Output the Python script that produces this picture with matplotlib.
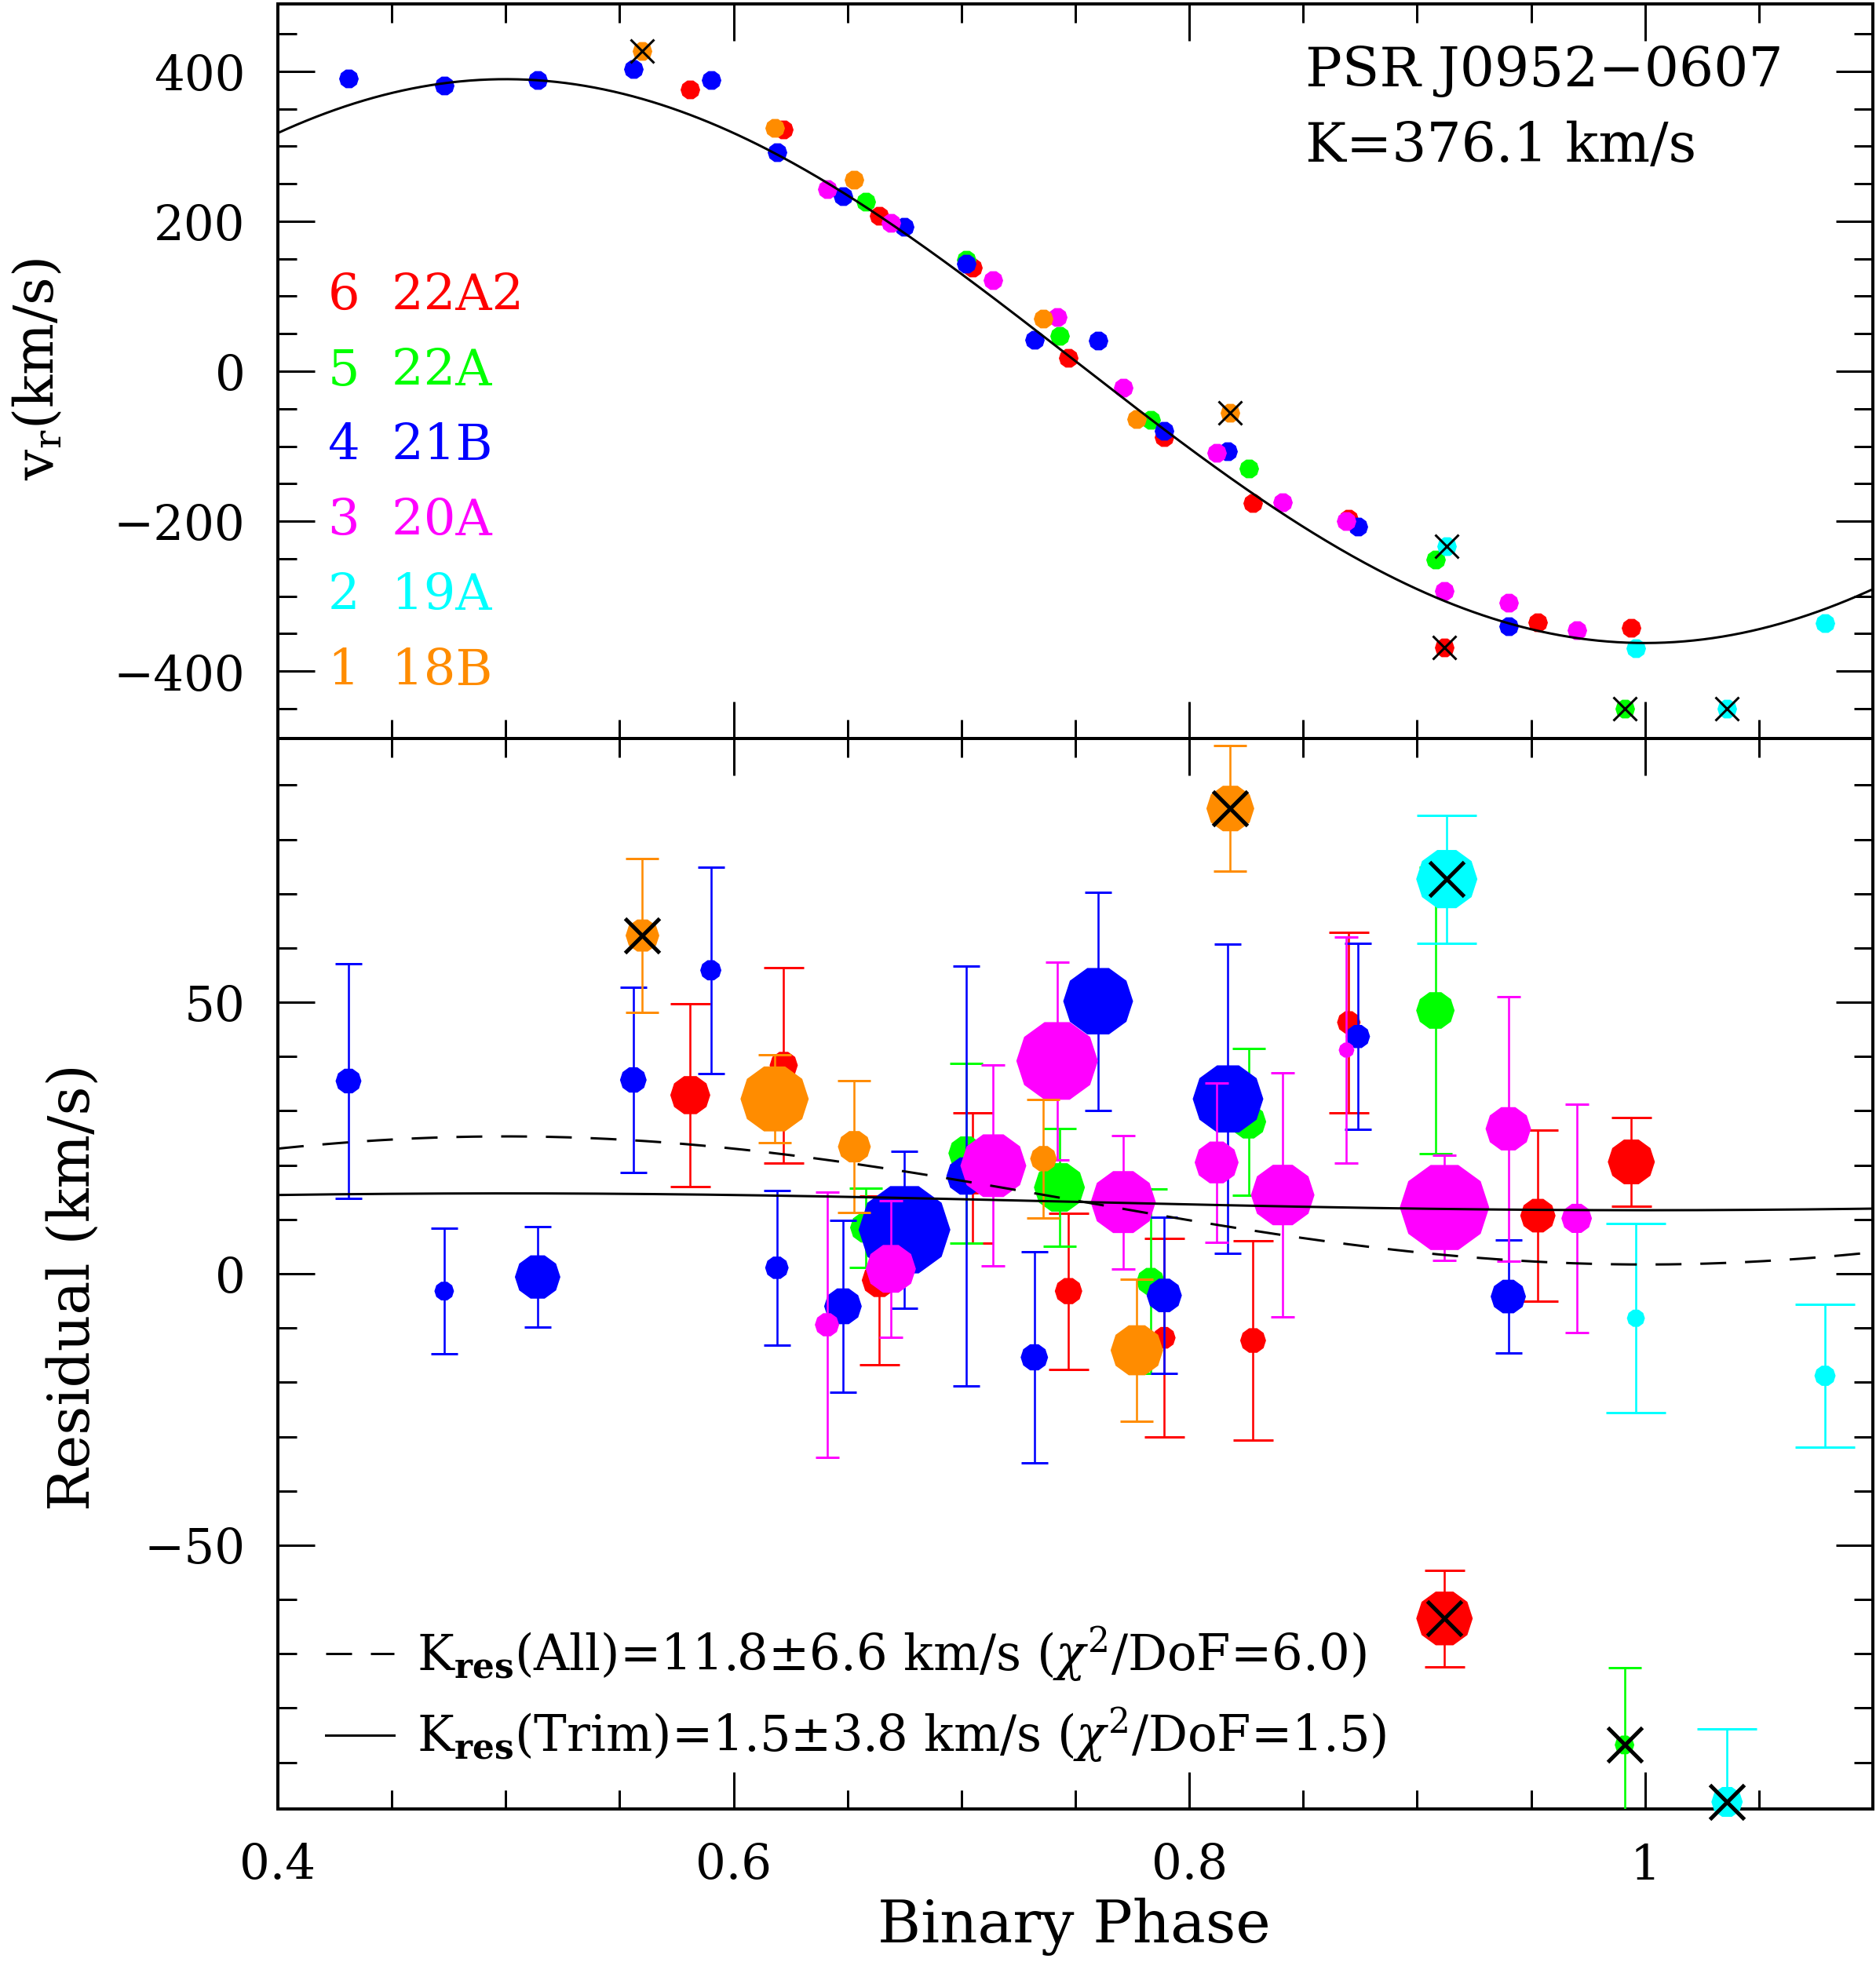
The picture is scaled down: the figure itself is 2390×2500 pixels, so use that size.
import numpy as np
import matplotlib
matplotlib.use("Agg")
import matplotlib.pyplot as plt
from matplotlib.ticker import MultipleLocator, FuncFormatter

# orbit solution and residual fits (offset, semi-amplitude)
K_ORB = 376.1
GAMMA = 13.5
FIT_ALL = (13.5, 11.8)
FIT_TRIM = (13.25, 1.55)

# dataset 6: 22A2
red_phase = [0.581, 0.622, 0.664, 0.705, 0.747, 0.789, 0.828, 0.870, 0.912, 0.953, 0.994]
red_rv = [376, 323, 207, 138, 18, -88, -176, -197, -369, -335, -342]
red_res = [32.9, 38.4, -1.2, 17.7, -3.2, -11.8, -12.3, 46.3, -63.5, 10.7, 20.6]
red_err = [16.8, 18.0, 15.5, 12.0, 14.4, 18.3, 18.4, 16.6, 8.9, 15.7, 8.1]
red_wt = [51, 36, 45, 45, 35, 29, 33, 30, 72, 45, 60]
red_bad = [0, 0, 0, 0, 0, 0, 0, 0, 1, 0, 0]

# dataset 5: 22A
green_phase = [0.658, 0.702, 0.743, 0.783, 0.826, 0.908, 0.991]
green_rv = [226, 149, 47, -65, -130, -251, -450]
green_res = [8.5, 22.2, 15.9, -1.4, 28.0, 48.5, -86.8]
green_err = [7.3, 16.6, 10.8, 17.0, 13.5, 26.4, 14.2]
green_wt = [40, 45, 65, 36, 45, 49, 25]
green_bad = [0, 0, 0, 0, 0, 0, 1]

# dataset 4: 21B
blue_phase = [0.431, 0.473, 0.514, 0.556, 0.590, 0.619, 0.648, 0.675, 0.702, 0.732,
              0.760, 0.789, 0.817, 0.874, 0.940]
blue_rv = [391, 381, 388, 403, 388, 292, 233, 193, 143, 42, 41, -80, -107, -207, -340]
blue_res = [35.5, -3.2, -0.6, 35.7, 55.9, 1.1, -6.0, 8.1, 18.0, -15.4, 50.2, -4.0, 32.2, 43.7, -4.2]
blue_err = [21.6, 11.6, 9.3, 17.1, 19.0, 14.2, 15.8, 14.4, 38.7, 19.4, 20.1, 14.4, 28.5, 17.1, 10.4]
blue_wt = [33, 25, 58, 34, 27, 30, 48, 117, 50, 35, 89, 45, 90, 31, 45]
blue_bad = [0] * 15

# dataset 3: 20A
mag_phase = [0.641, 0.669, 0.714, 0.742, 0.771, 0.812, 0.841, 0.869, 0.912, 0.940, 0.970]
mag_rv = [243, 198, 121, 72, -22, -109, -175, -200, -293, -309, -346]
mag_res = [-9.4, 0.9, 19.9, 39.2, 13.2, 20.5, 14.5, 41.2, 12.2, 26.7, 10.2]
mag_err = [24.5, 12.6, 18.5, 18.2, 12.3, 14.7, 22.5, 20.8, 9.7, 24.4, 21.0]
mag_wt = [31, 64, 84, 104, 83, 56, 81, 20, 114, 58, 39]
mag_bad = [0] * 11

# dataset 2: 19A
cyan_phase = [0.913, 0.996, 1.036, 1.079]
cyan_rv = [-234, -370, -450, -336]
cyan_res = [72.7, -8.2, -97.3, -18.8]
cyan_err = [11.8, 17.4, 13.4, 13.2]
cyan_wt = [78, 23, 40, 27]
cyan_bad = [1, 0, 1, 0]

# dataset 1: 18B
orange_phase = [0.560, 0.618, 0.653, 0.736, 0.777, 0.818]
orange_rv = [427, 325, 255, 70, -64, -56]
orange_res = [62.3, 32.2, 23.4, 21.2, -14.1, 85.7]
orange_err = [14.2, 8.1, 12.1, 10.9, 13.1, 11.6]
orange_wt = [43, 87, 42, 34, 67, 61]
orange_bad = [1, 0, 0, 0, 0, 1]

labels = ["6  22A2", "5  22A", "4  21B", "3  20A", "2  19A", "1  18B"]
colors = ["#ff0000", "#00ff00", "#0000ff", "#ff00ff", "#00ffff", "#ff8c00"]
capw = [51, 43, 34, 30, 76, 43]  # cap width, px

sets = [
    (red_phase, red_rv, red_res, red_err, red_wt, red_bad),
    (green_phase, green_rv, green_res, green_err, green_wt, green_bad),
    (blue_phase, blue_rv, blue_res, blue_err, blue_wt, blue_bad),
    (mag_phase, mag_rv, mag_res, mag_err, mag_wt, mag_bad),
    (cyan_phase, cyan_rv, cyan_res, cyan_err, cyan_wt, cyan_bad),
    (orange_phase, orange_rv, orange_res, orange_err, orange_wt, orange_bad),
]

plt.rcParams['font.family'] = ['DejaVu Serif']
plt.rcParams['mathtext.fontset'] = 'dejavuserif'
plt.rcParams['font.size'] = 44

DPI = 100
PT = 72.0 / DPI  # points per pixel
W, H = 2390, 2500
fig = plt.figure(figsize=(W / DPI, H / DPI), dpi=DPI)

x0, x1 = 354, 2386
ax1 = fig.add_axes([x0 / W, 1 - 941 / H, (x1 - x0) / W, 936 / H])
ax2 = fig.add_axes([x0 / W, 1 - 2305 / H, (x1 - x0) / W, (2305 - 941) / H])

pc = np.linspace(0.4, 1.1, 500)
POLY = (10, 0, 18)

for i, (col, (ph, rv, res, err, wt, bad)) in enumerate(zip(colors, sets)):
    ph = np.array(ph); rv = np.array(rv); res = np.array(res)
    err = np.array(err); wt = np.array(wt); bad = np.array(bad, bool)
    z = 10 + 2 * i
    # top panel
    ax1.scatter(ph, rv, s=(25 * PT) ** 2, marker=POLY, color=col, linewidths=0, zorder=z + 1)
    ax1.plot(ph[bad], rv[bad], 'x', color='k', ms=30 * PT, mew=3 * PT, zorder=30)
    # bottom panel
    ax2.errorbar(ph, res, yerr=err, fmt='none', ecolor=col, elinewidth=2.6 * PT,
                 capsize=capw[i] / 2 * PT, capthick=3 * PT, zorder=z)
    ax2.scatter(ph, res, s=(wt * PT) ** 2, marker=POLY, color=col, linewidths=0,
                zorder=z + 1, clip_on=False)
    ax2.plot(ph[bad], res[bad], 'x', color='k', ms=44 * PT, mew=5 * PT, zorder=30, clip_on=False)

ax1.plot(pc, GAMMA - K_ORB * np.cos(2 * np.pi * pc), color='k', lw=3 * PT, zorder=40)
ax2.plot(pc, FIT_ALL[0] - FIT_ALL[1] * np.cos(2 * np.pi * pc), color='k', lw=3 * PT,
         dashes=(11, 8), zorder=40)
ax2.plot(pc, FIT_TRIM[0] - FIT_TRIM[1] * np.cos(2 * np.pi * pc), color='k', lw=3 * PT, zorder=40)

# annotations
ax1.text(0.851, 400, "PSR J0952\u22120607", va='center', ha='left', fontsize=50)
ax1.text(0.851, 300, "K=376.1 km/s", va='center', ha='left', fontsize=50)
for k, (lab, col) in enumerate(zip(labels, colors)):
    ax1.text(0.422, 100 - 100 * k, lab, color=col, va='center', ha='left', fontsize=46)

ax2.plot([0.421, 0.451], [-70, -70], color='k', lw=3 * PT, dashes=(11, 8))
ax2.plot([0.421, 0.451], [-85, -85], color='k', lw=3 * PT)
ax2.text(0.461, -70, r"K$_{\mathbf{res}}$(All)=11.8$\pm$6.6 km/s ($\chi^2$/DoF=6.0)",
         va='center', ha='left', fontsize=45)
ax2.text(0.461, -85, r"K$_{\mathbf{res}}$(Trim)=1.5$\pm$3.8 km/s ($\chi^2$/DoF=1.5)",
         va='center', ha='left', fontsize=45)

# axes styling
ax1.set_xlim(0.4, 1.1)
ax2.set_xlim(0.4, 1.1)
ax1.set_ylim(-490, 490)
ax2.set_ylim(-98.6, 98.6)
for ax in (ax1, ax2):
    ax.xaxis.set_major_locator(MultipleLocator(0.2))
    ax.xaxis.set_minor_locator(MultipleLocator(0.05))
    for s in ax.spines.values():
        s.set_linewidth(4 * PT)
    ax.tick_params(which='both', direction='in', top=True, right=True, width=3 * PT)
    ax.tick_params(which='major', length=47 * PT, pad=30)
    ax.tick_params(which='minor', length=24 * PT)
ax1.yaxis.set_major_locator(MultipleLocator(200))
ax1.yaxis.set_minor_locator(MultipleLocator(50))
ax2.yaxis.set_major_locator(MultipleLocator(50))
ax2.yaxis.set_minor_locator(MultipleLocator(10))
ax1.tick_params(labelbottom=False)
ax2.xaxis.set_major_formatter(FuncFormatter(lambda v, p: "%g" % round(v, 2)))
ax1.yaxis.set_major_formatter(FuncFormatter(lambda v, p: ("%d" % v).replace("-", "\u2212")))
ax2.yaxis.set_major_formatter(FuncFormatter(lambda v, p: ("%d" % v).replace("-", "\u2212")))

fig.text(48 / W, 1 - 470 / H, r"v$_{\rm r}$(km/s)", rotation=90, ha='center', va='center',
         fontsize=50)
fig.text(93 / W, 1 - 1640 / H, "Residual (km/s)", rotation=90, ha='center', va='center',
         fontsize=52)
fig.text(1368 / W, 1 - 2455 / H, "Binary Phase", ha='center', va='center', fontsize=54)

fig.savefig("out.png", dpi=DPI)
